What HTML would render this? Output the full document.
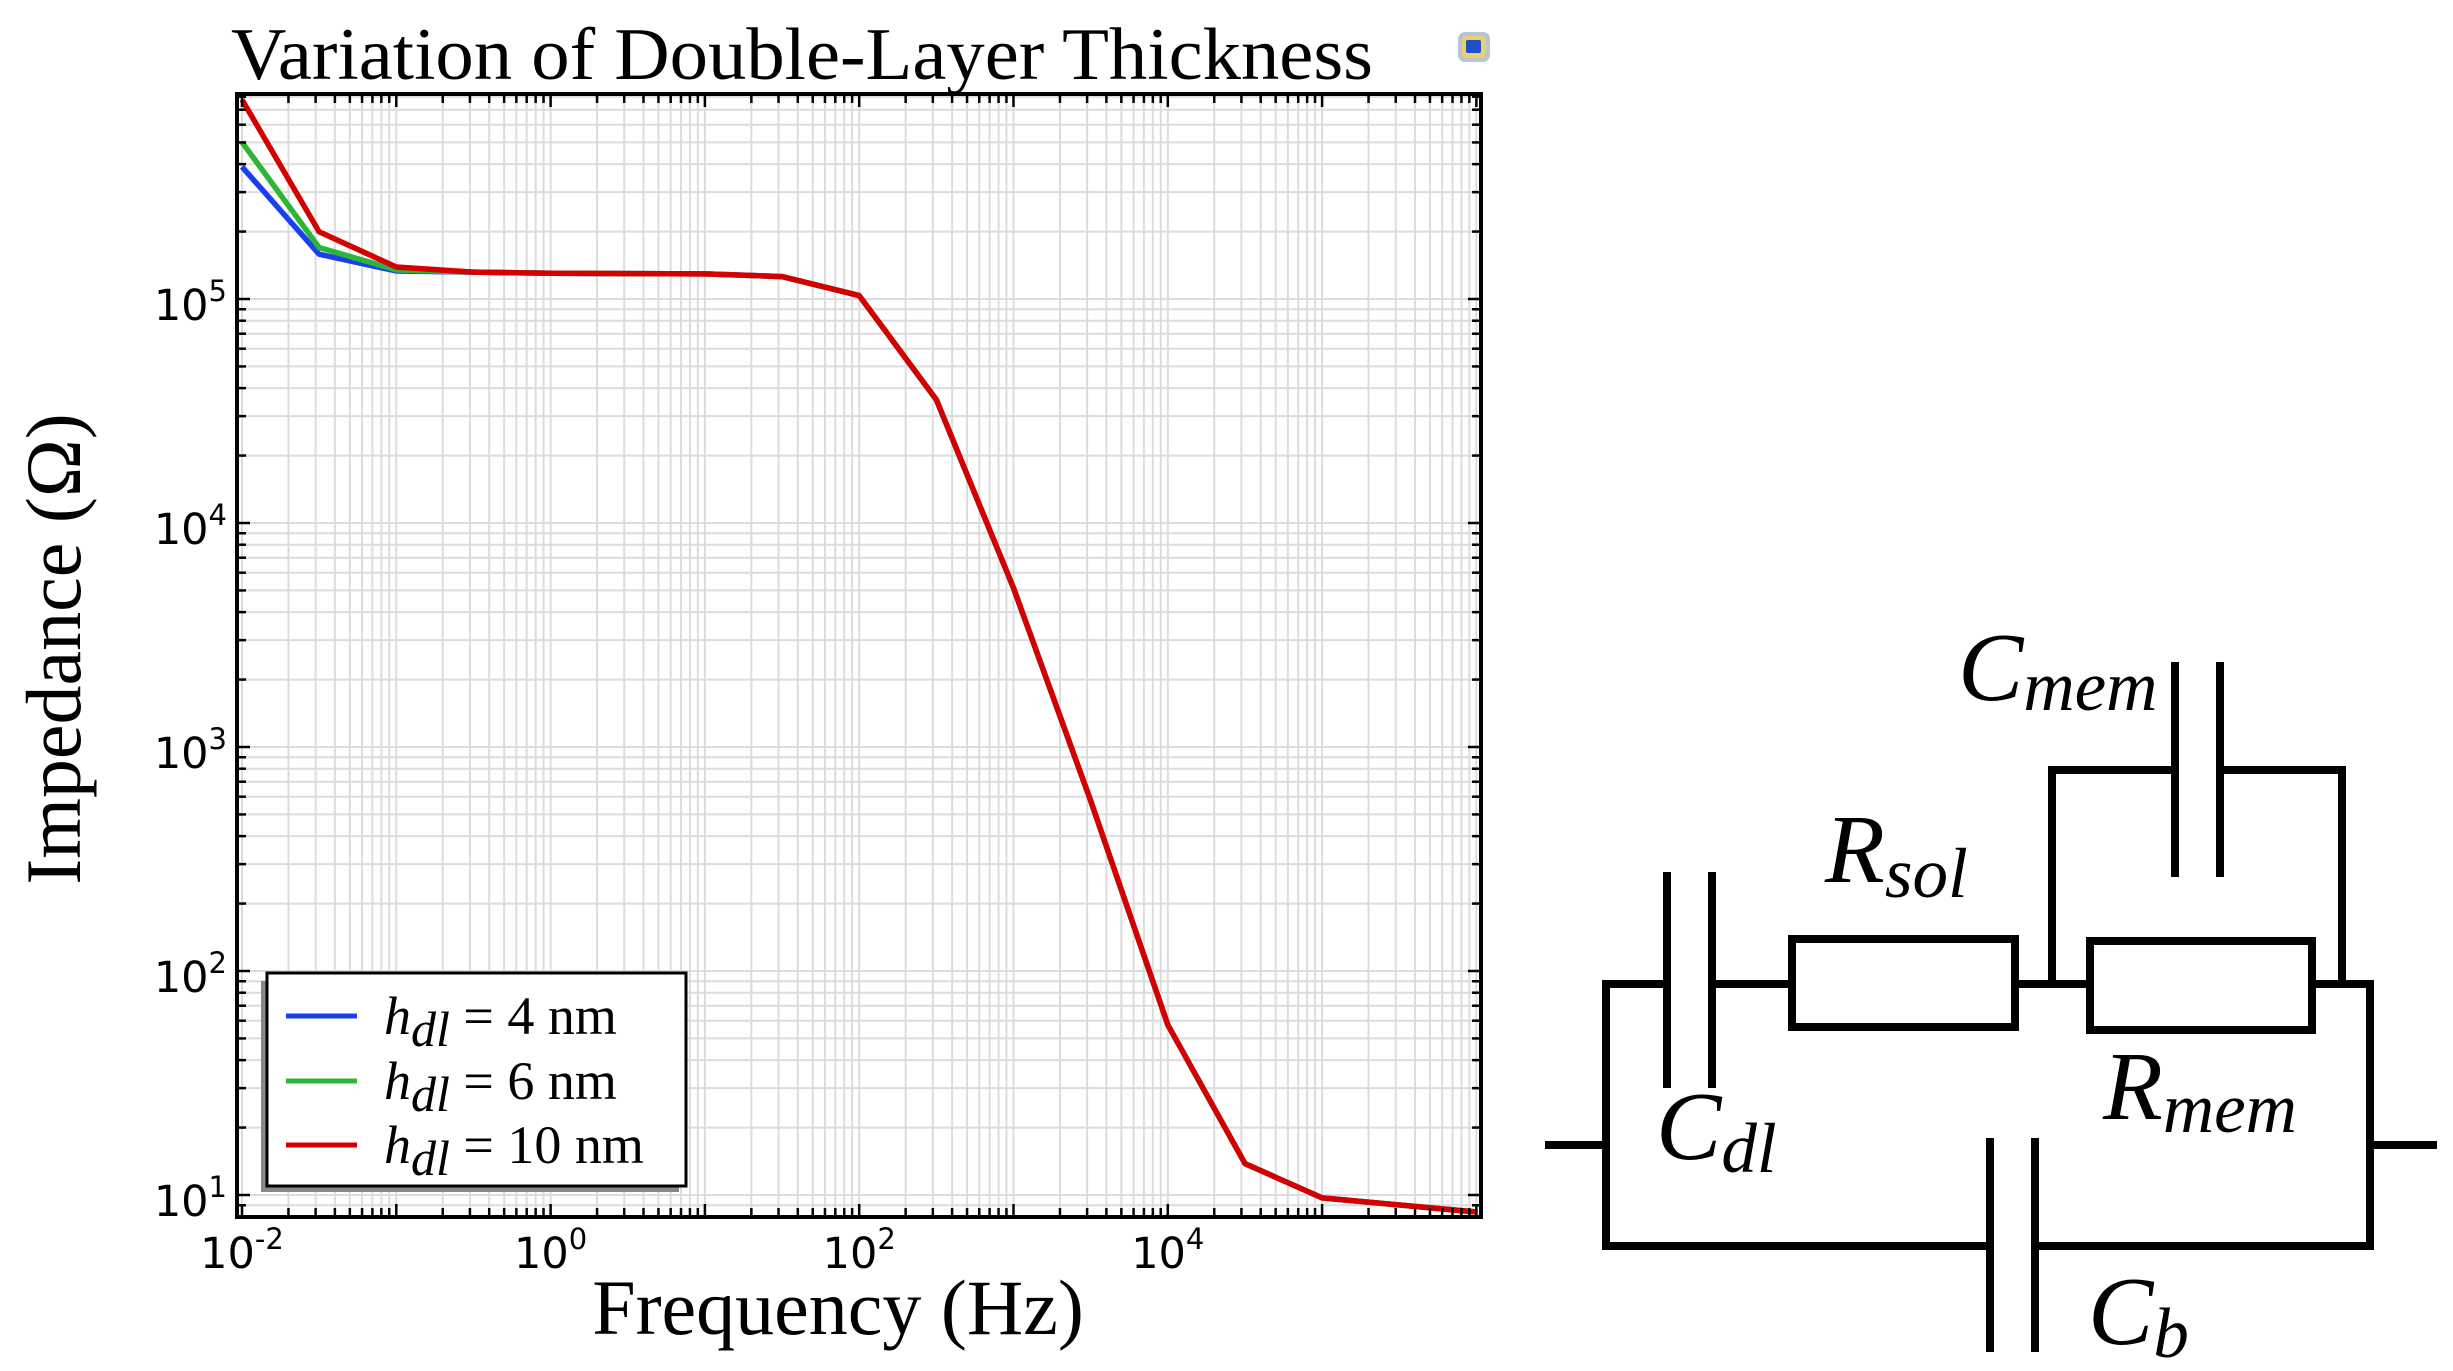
<!DOCTYPE html>
<html><head><meta charset="utf-8"><style>
html,body{margin:0;padding:0;background:#fff;}
svg{display:block;}
</style></head><body>
<svg id="s" width="2453" height="1371" viewBox="0 0 2453 1371" xmlns="http://www.w3.org/2000/svg">
<rect width="2453" height="1371" fill="#fff"/>
<g id="grid"></g>
<g id="data" fill="none" stroke-width="5.5" stroke-linejoin="round"></g>
<g id="ticks" stroke="#000" stroke-width="2.5"></g>
<rect x="237" y="94" width="1244" height="1123" fill="none" stroke="#000" stroke-width="4"/>
<!-- legend -->
<rect x="261" y="981" width="418" height="211" fill="#888"/>
<rect x="267" y="973" width="419" height="213" fill="#fff" stroke="#000" stroke-width="3"/>
<line x1="286" y1="1016" x2="357" y2="1016" stroke="#1a3ff0" stroke-width="5"/>
<line x1="286" y1="1081" x2="357" y2="1081" stroke="#2db53a" stroke-width="5"/>
<line x1="286" y1="1145" x2="357" y2="1145" stroke="#d40000" stroke-width="5"/>
<g font-family="Liberation Serif, serif" font-size="54" fill="#000">
<text x="384" y="1034"><tspan font-style="italic">h</tspan><tspan font-style="italic" font-size="50" dy="12">dl</tspan><tspan dy="-12"> = 4 nm</tspan></text>
<text x="384" y="1099"><tspan font-style="italic">h</tspan><tspan font-style="italic" font-size="50" dy="12">dl</tspan><tspan dy="-12"> = 6 nm</tspan></text>
<text x="384" y="1163"><tspan font-style="italic">h</tspan><tspan font-style="italic" font-size="50" dy="12">dl</tspan><tspan dy="-12"> = 10 nm</tspan></text>
</g>
<g id="labels" font-family="DejaVu Sans, Liberation Sans, sans-serif" font-size="43" fill="#000"></g>
<text x="231" y="79" font-family="Liberation Serif, serif" font-size="74" textLength="1142" lengthAdjust="spacingAndGlyphs">Variation of Double-Layer Thickness</text>
<text x="838" y="1334" text-anchor="middle" font-family="Liberation Serif, serif" font-size="78">Frequency (Hz)</text>
<text transform="translate(80,649) rotate(-90)" text-anchor="middle" font-family="Liberation Serif, serif" font-size="78">Impedance (Ω)</text>
<!-- icon -->
<rect x="1458" y="32" width="32" height="30" rx="7" fill="#b8c4d0"/>
<rect x="1462" y="36" width="24" height="22" rx="5" fill="#e8d070"/>
<rect x="1466" y="40" width="15" height="13" rx="2" fill="#1f4fc8"/>
<!-- circuit -->
<g stroke="#000" stroke-width="8" fill="none" stroke-linecap="butt">
<line x1="1545" y1="1145" x2="1606" y2="1145"/>
<line x1="2370" y1="1145" x2="2437" y2="1145"/>
<polyline points="1667,984 1606,984 1606,1246 1990,1246"/>
<polyline points="2035,1246 2370,1246 2370,984 2312,984"/>
<line x1="1712" y1="984" x2="1792" y2="984"/>
<line x1="2015" y1="984" x2="2090" y2="984"/>
<rect x="1792" y="939" width="223" height="88"/>
<rect x="2090" y="941" width="222" height="89"/>
<polyline points="2052,984 2052,770 2175,770"/>
<polyline points="2220,770 2342,770 2342,984"/>
<line x1="1667" y1="872" x2="1667" y2="1088"/>
<line x1="1712" y1="872" x2="1712" y2="1088"/>
<line x1="2175" y1="662" x2="2175" y2="877"/>
<line x1="2220" y1="662" x2="2220" y2="877"/>
<line x1="1990" y1="1138" x2="1990" y2="1352"/>
<line x1="2035" y1="1138" x2="2035" y2="1352"/>
</g>
<g font-family="Liberation Serif, serif" font-style="italic" fill="#000">
<text x="1958" y="700" font-size="98">C<tspan font-size="71" dy="10">mem</tspan></text>
<text x="1825" y="882" font-size="98">R<tspan font-size="71" dy="15">sol</tspan></text>
<text x="1656" y="1159" font-size="98">C<tspan font-size="71" dy="13">dl</tspan></text>
<text x="2103" y="1119" font-size="98">R<tspan font-size="71" dy="13">mem</tspan></text>
<text x="2088" y="1344" font-size="98">C<tspan font-size="71" dy="13">b</tspan></text>
</g>
</svg>
<script>
(function(){
var NS="http://www.w3.org/2000/svg";
function X(lf){return 242+154.3*(lf+2);}
function Y(lz){return 299+224*(5-lz);}
var L=237,R=1481,T=94,B=1217;
var g=document.getElementById('grid'),t=document.getElementById('ticks'),lab=document.getElementById('labels'),d=document.getElementById('data');
function ln(p,x1,y1,x2,y2,c,w){var e=document.createElementNS(NS,'line');e.setAttribute('x1',x1);e.setAttribute('y1',y1);e.setAttribute('x2',x2);e.setAttribute('y2',y2);if(c)e.setAttribute('stroke',c);if(w)e.setAttribute('stroke-width',w);p.appendChild(e);}
for(var dd=-2;dd<=6;dd++)for(var m=1;m<=9;m++){var x=X(dd+Math.log10(m));if(x<L+1||x>R-1)continue;
 ln(g,x,T,x,B,'#dcdcdc',2);var len=(m==1)?13:9;ln(t,x,B,x,B-len);ln(t,x,T,x,T+len);}
for(var dd=0;dd<=6;dd++)for(var m=1;m<=9;m++){var y=Y(dd+Math.log10(m));if(y<T+1||y>B-1)continue;
 ln(g,L,y,R,y,'#dcdcdc',2);var len=(m==1)?13:9;ln(t,L,y,L+len,y);ln(t,R,y,R-len,y);}
function txt(x,y,base,sup,anchor){var e=document.createElementNS(NS,'text');e.setAttribute('x',x);e.setAttribute('y',y);e.setAttribute('text-anchor',anchor);
 e.appendChild(document.createTextNode(base));var s=document.createElementNS(NS,'tspan');s.setAttribute('font-size','29');s.setAttribute('dy','-19');s.textContent=sup;e.appendChild(s);lab.appendChild(e);}
[[-2,'-2'],[0,'0'],[2,'2'],[4,'4']].forEach(function(a){txt(X(a[0]),1268,'10',a[1],'middle');});
[1,2,3,4,5].forEach(function(k){txt(227,Y(k)+21,'10',''+k,'end');});
var tail=[[-0.5,5.12],[0,5.115],[1,5.112],[1.5,5.10],[2,5.015],[2.5,4.55],[3,3.71],[3.5,2.76],[4,1.76],[4.5,1.14],[5,0.987],[6,0.924]];
var series=[['#1a3ff0',[[-2,5.59],[-1.5,5.20],[-1,5.125]]],['#2db53a',[[-2,5.70],[-1.5,5.23],[-1,5.13]]],['#d40000',[[-2,5.89],[-1.5,5.30],[-1,5.143]]]];
series.forEach(function(s){var pts=s[1].concat(tail).map(function(p){return X(p[0]).toFixed(1)+','+Y(p[1]).toFixed(1);}).join(' ');
 var e=document.createElementNS(NS,'polyline');e.setAttribute('points',pts);e.setAttribute('stroke',s[0]);d.appendChild(e);});
})();
</script>
</body></html>
